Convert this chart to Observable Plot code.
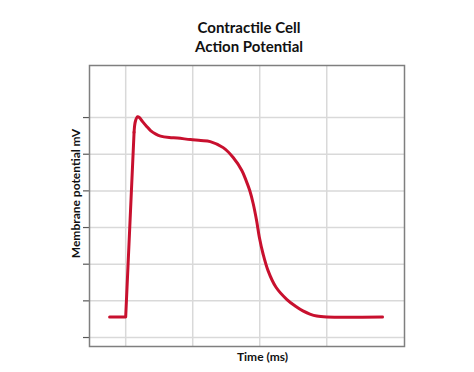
<!DOCTYPE html>
<html>
<head>
<meta charset="utf-8">
<script src="https://cdn.jsdelivr.net/npm/d3@7"></script>
<script src="https://cdn.jsdelivr.net/npm/@observablehq/plot@0.6"></script>
<style>
  html, body { margin: 0; padding: 0; background: #fff; }
  #wrap { width: 474px; height: 372px; overflow: hidden; font-family: Lato, "Open Sans", sans-serif; }
  #title { height: 58px; box-sizing: border-box; padding-top: 18px; padding-left: 24px;
           text-align: center; font-weight: bold; font-size: 15px; line-height: 19px; color: #111; }
  svg { display: block; }
</style>
</head>
<body>
<div id="wrap">
  <div id="title">Contractile Cell<br>Action Potential</div>
  <div id="chart"></div>
</div>
<script>
// Data (time in arbitrary ms units, potential in mV)
const upstrokeTime = [76, 100, 112.5];
const upstrokeMv   = [-88.8, -88.8, 12];
const timeMs = [112.5, 114.5, 117.8, 121, 125.2, 131, 137.1, 145, 152, 165, 177.2, 196.5, 212, 226.2, 245.5, 260.4, 273.3, 279.7, 285.1, 290.2, 295.3, 299.4, 304.9, 312.4, 324.3, 340.6, 354.0, 364.4, 374.8, 385.1, 400, 483.2];
const potentialMv = [12, 18, 20.5, 19.8, 17.8, 15.3, 12.9, 11.0, 9.9, 9.1, 8.8, 8.0, 7.5, 6.9, 3.6, -1.8, -8.9, -14.4, -19.8, -26.9, -36.2, -45.3, -54.3, -63.5, -72.6, -79.3, -83.1, -85.5, -87.2, -88.3, -88.8, -88.8];
const xGridTicks = [100, 200, 300, 400];
const yTicks = [-100, -80, -60, -40, -20, 0, 20];
const xLabel = "Time (ms)";
const yLabel = "Membrane potential mV";

const upstroke = upstrokeTime.map((t, i) => ({t, v: upstrokeMv[i]}));
const rest = timeMs.map((t, i) => ({t, v: potentialMv[i]}));

const chart = Plot.plot({
  width: 474,
  height: 314,
  marginTop: 7,
  marginBottom: 26,
  marginLeft: 89,
  marginRight: 70,
  style: {fontFamily: "Lato, 'Open Sans', sans-serif", background: "white", color: "#111"},
  x: {domain: [46, 516], axis: null},
  y: {domain: [-104.9, 48.4], axis: null},
  marks: [
    Plot.gridX(xGridTicks, {stroke: "#d9d9d9", strokeOpacity: 1, strokeWidth: 1.5}),
    Plot.gridY(yTicks, {stroke: "#d9d9d9", strokeOpacity: 1, strokeWidth: 1.5}),
    Plot.axisY(yTicks, {tickSize: 6, stroke: "#595959", strokeWidth: 1.2, fill: "none", label: null}),
    Plot.frame({stroke: "#7f7f7f", strokeWidth: 1.5}),
    Plot.line(upstroke, {x: "t", y: "v", stroke: "#c8102e", strokeWidth: 3, curve: "linear", strokeLinejoin: "round"}),
    Plot.line(rest, {x: "t", y: "v", stroke: "#c8102e", strokeWidth: 3, curve: "catmull-rom", strokeLinecap: "round"}),
    Plot.text([yLabel], {frameAnchor: "left", rotate: -90, textAnchor: "middle", lineAnchor: "middle", dx: -13, dy: -12.5, fontWeight: "bold", fontSize: 12, fill: "#111"}),
    Plot.text([xLabel], {frameAnchor: "bottom", textAnchor: "middle", lineAnchor: "middle", dx: 15.5, dy: 11, fontWeight: "bold", fontSize: 12, fill: "#111"})
  ]
});
document.getElementById("chart").appendChild(chart);
</script>
</body>
</html>
